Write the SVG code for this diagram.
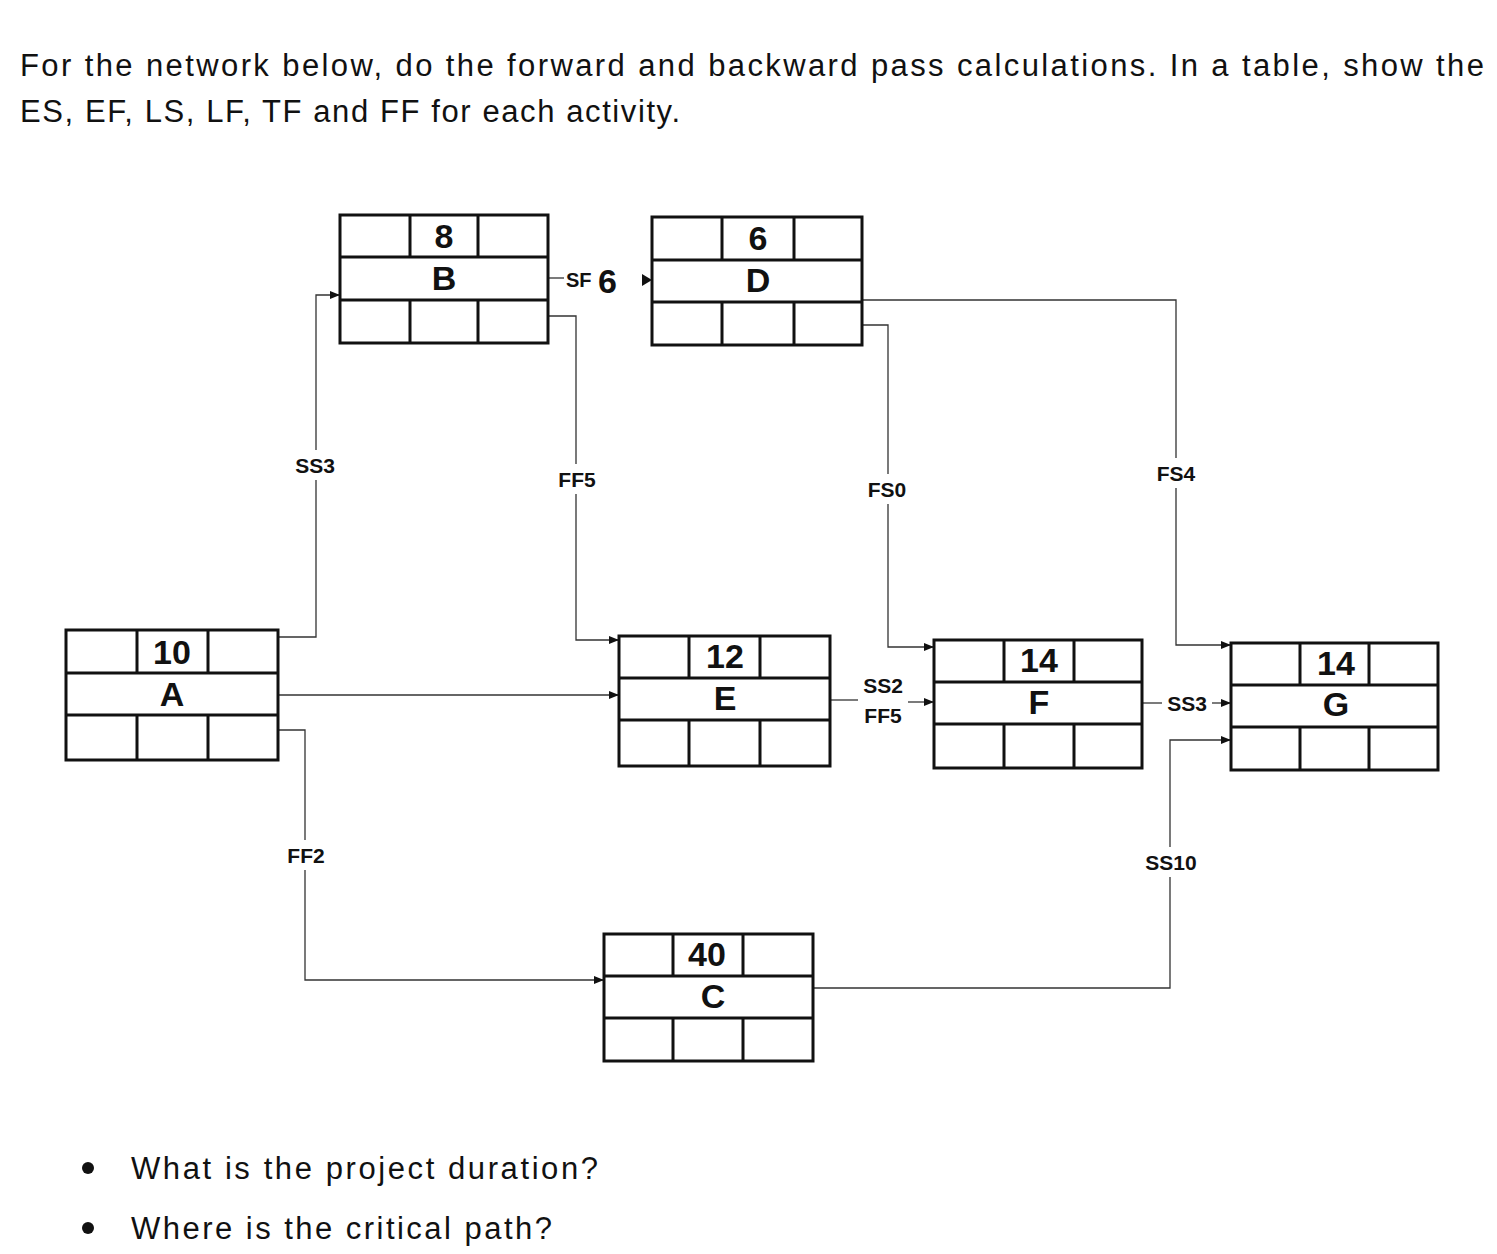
<svg xmlns="http://www.w3.org/2000/svg" width="1497" height="1254" viewBox="0 0 1497 1254">
<defs>
<marker id="ar" markerWidth="10" markerHeight="8" refX="10" refY="4" orient="auto" markerUnits="userSpaceOnUse"><path d="M0,0 L10,4 L0,8 Z" fill="#111"/></marker>
<style>
.t{font-family:"Liberation Sans",Arial,sans-serif;fill:#111}
.q{font-size:31px}
.nb{fill:#fff;stroke:#111;stroke-width:3}
.nl{stroke:#111;stroke-width:3}
.v{font-size:34px;font-weight:bold;text-anchor:middle}
.lb{font-size:21px;font-weight:bold;text-anchor:middle}
.c{fill:none;stroke:#333;stroke-width:1.3}
</style>
</defs>
<rect width="1497" height="1254" fill="#fff"/>
<text class="t q" x="20" y="76" textLength="1464" lengthAdjust="spacing">For the network below, do the forward and backward pass calculations.  In a table, show the</text>
<text class="t q" x="20" y="122" textLength="660" lengthAdjust="spacing">ES, EF, LS, LF, TF and FF for each activity.</text>
<g id="connectors">
<path class="c" d="M278,637 H316 V295 H340" marker-end="url(#ar)"/>
<path class="c" d="M548,316 H576 V640 H619" marker-end="url(#ar)"/>
<path class="c" d="M548,278 H564"/>
<path d="M642,274 L652,280 L642,286 Z" fill="#111"/>
<path class="c" d="M862,325 H888 V647 H934" marker-end="url(#ar)"/>
<path class="c" d="M862,300 H1176 V645 H1231" marker-end="url(#ar)"/>
<path class="c" d="M278,695 H619" marker-end="url(#ar)"/>
<path class="c" d="M830,700 H858"/>
<path class="c" d="M908,702 H934" marker-end="url(#ar)"/>
<path class="c" d="M1142,703 H1162"/>
<path class="c" d="M1212,703 H1231" marker-end="url(#ar)"/>
<path class="c" d="M278,730 H305 V980 H604" marker-end="url(#ar)"/>
<path class="c" d="M813,988 H1170 V740 H1231" marker-end="url(#ar)"/>
<rect x="290" y="450" width="52" height="30" fill="#fff"/>
<text class="t lb" x="315" y="473">SS3</text>
<rect x="553" y="464" width="48" height="30" fill="#fff"/>
<text class="t lb" x="577" y="487">FF5</text>
<text class="t" x="566" y="287" style="font-size:20px;font-weight:bold">SF</text>
<text class="t" x="598" y="293" style="font-size:34px;font-weight:bold">6</text>
<rect x="863" y="474" width="50" height="30" fill="#fff"/>
<text class="t lb" x="887" y="497">FS0</text>
<rect x="1152" y="458" width="48" height="30" fill="#fff"/>
<text class="t lb" x="1176" y="481">FS4</text>
<text class="t lb" x="883" y="693">SS2</text>
<text class="t lb" x="883" y="723">FF5</text>
<text class="t lb" x="1187" y="711">SS3</text>
<rect x="282" y="840" width="48" height="30" fill="#fff"/>
<text class="t lb" x="306" y="863">FF2</text>
<rect x="1140" y="847" width="62" height="30" fill="#fff"/>
<text class="t lb" x="1171" y="870">SS10</text>
</g>
<g id="A"><rect class="nb" x="66" y="630" width="212" height="130"/><path class="nl" d="M66,673 H278 M66,715 H278 M137,630 V673 M208,630 V673 M137,715 V760 M208,715 V760"/><text class="t v" x="172" y="664">10</text><text class="t v" x="172" y="706">A</text></g>
<g id="B"><rect class="nb" x="340" y="215" width="208" height="128"/><path class="nl" d="M340,257 H548 M340,300 H548 M410,215 V257 M478,215 V257 M410,300 V343 M478,300 V343"/><text class="t v" x="444" y="248">8</text><text class="t v" x="444" y="290">B</text></g>
<g id="D"><rect class="nb" x="652" y="217" width="210" height="128"/><path class="nl" d="M652,260 H862 M652,302 H862 M722,217 V260 M794,217 V260 M722,302 V345 M794,302 V345"/><text class="t v" x="758" y="250">6</text><text class="t v" x="758" y="292">D</text></g>
<g id="E"><rect class="nb" x="619" y="636" width="211" height="130"/><path class="nl" d="M619,678 H830 M619,720 H830 M689,636 V678 M760,636 V678 M689,720 V766 M760,720 V766"/><text class="t v" x="725" y="668">12</text><text class="t v" x="725" y="710">E</text></g>
<g id="F"><rect class="nb" x="934" y="640" width="208" height="128"/><path class="nl" d="M934,682 H1142 M934,724 H1142 M1004,640 V682 M1074,640 V682 M1004,724 V768 M1074,724 V768"/><text class="t v" x="1039" y="672">14</text><text class="t v" x="1039" y="714">F</text></g>
<g id="G"><rect class="nb" x="1231" y="643" width="207" height="127"/><path class="nl" d="M1231,685 H1438 M1231,727 H1438 M1300,643 V685 M1369,643 V685 M1300,727 V770 M1369,727 V770"/><text class="t v" x="1336" y="675">14</text><text class="t v" x="1336" y="716">G</text></g>
<g id="C"><rect class="nb" x="604" y="934" width="209" height="127"/><path class="nl" d="M604,976 H813 M604,1018 H813 M673,934 V976 M743,934 V976 M673,1018 V1061 M743,1018 V1061"/><text class="t v" x="707" y="966">40</text><text class="t v" x="713" y="1008">C</text></g>
<circle cx="88" cy="1168" r="6" fill="#111"/>
<circle cx="88" cy="1228" r="6" fill="#111"/>
<text class="t q" x="131" y="1179" textLength="467" lengthAdjust="spacing">What is the project duration?</text>
<text class="t q" x="131" y="1239" textLength="421" lengthAdjust="spacing">Where is the critical path?</text>
</svg>
